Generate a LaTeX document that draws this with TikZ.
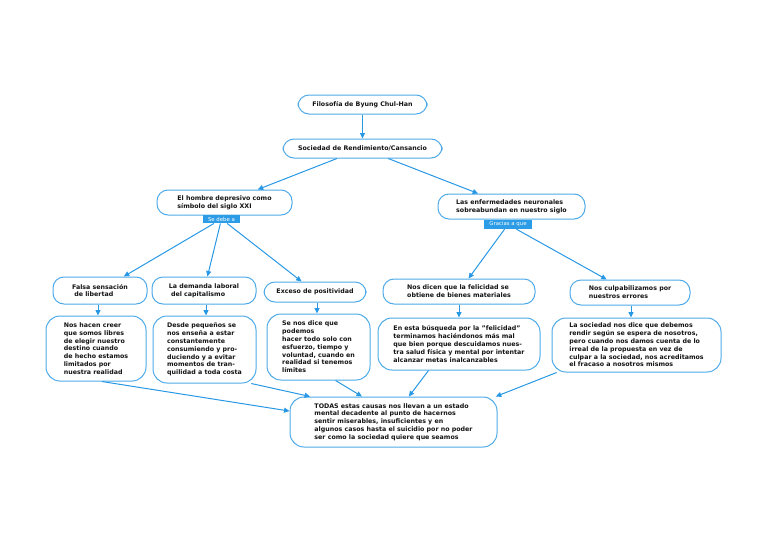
\documentclass[tikz,border=0pt]{standalone}
\usepackage{fontspec}
\setmainfont{DejaVu Sans}
\usetikzlibrary{arrows.meta}
\definecolor{boxblue}{RGB}{78,170,232}
\definecolor{arrblue}{RGB}{40,152,228}
\definecolor{tabblue}{RGB}{45,156,230}
\definecolor{txt}{RGB}{20,20,20}
\tikzset{
  box/.style={draw=boxblue, line width=1pt, fill=white, rounded corners=11pt,
    align=left, inner sep=0pt, text=txt,
    font=\bfseries\fontsize{6.3}{7.8}\selectfont},
  bigbox/.style={box, rounded corners=14pt},
  tab/.style={fill=tabblue, text=white, inner sep=0pt,
    font=\fontsize{5.4}{6}\selectfont},
  conn/.style={draw=arrblue, line width=1pt, -{Triangle[length=5.5pt,width=5pt]}}
}
\begin{document}
\begin{tikzpicture}[x=1pt,y=-1pt]
\useasboundingbox (0,0) rectangle (768,541);
\node[box, minimum width=129pt, minimum height=19pt] (fil) at (362.5,104.5) {Filosofía de Byung Chul-Han};
\node[box, minimum width=159pt, minimum height=19pt] (soc) at (362.5,148.5) {Sociedad de Rendimiento/Cansancio};
\node[box, minimum width=135pt, minimum height=25pt] (hom) at (224.5,202.5) {El hombre depresivo como\\símbolo del siglo XXI};
\node[box, minimum width=147pt, minimum height=25pt] (enf) at (511.5,206.5) {Las enfermedades neuronales\\sobreabundan en nuestro siglo};
\node[tab, minimum width=37pt, minimum height=8.5pt] (tab1) at (221.5,219) {Se debe a};
\node[tab, minimum width=48pt, minimum height=9pt] (tab2) at (508,224.5) {Gracias a que};
\node[box, minimum width=94pt, minimum height=27pt] (fal) at (100,290.5) {Falsa sensación\\\ de libertad};
\node[box, minimum width=104pt, minimum height=27pt] (dem) at (204,290.5) {La demanda laboral\\\ del capitalismo};
\node[box, minimum width=102pt, minimum height=20pt] (exc) at (315,292) {Exceso de positividad};
\node[box, minimum width=152pt, minimum height=25pt] (dic) at (459,291.5) {Nos dicen que la felicidad se\\obtiene de bienes materiales};
\node[box, minimum width=120pt, minimum height=25pt] (cul) at (630,292.5) {Nos culpabilizamos por\\nuestros errores};
\node[bigbox, minimum width=100pt, minimum height=65pt] (hac) at (96,348.5) {Nos hacen creer\\que somos libres\\de elegir nuestro\\destino cuando\\de hecho estamos\\limitados por\\nuestra realidad};
\node[bigbox, minimum width=103pt, minimum height=67pt] (des) at (204.5,349.5) {Desde pequeños se\\nos enseña a estar\\constantemente\\consumiendo y pro-\\duciendo y a evitar\\momentos de tran-\\quilidad a toda costa};
\node[bigbox, minimum width=103pt, minimum height=66pt] (sen) at (318.5,347) {Se nos dice que\\podemos\\hacer todo solo con\\esfuerzo, tiempo y\\voluntad, cuando en\\realidad si tenemos\\límites};
\node[bigbox, minimum width=162pt, minimum height=52pt] (bus) at (459,344) {En esta búsqueda por la \symbol{34}felicidad\symbol{34}\\terminamos haciéndonos más mal\\que bien porque descuidamos nues-\\tra salud física y mental por intentar\\alcanzar metas inalcanzables};
\node[bigbox, minimum width=169pt, minimum height=54pt] (lso) at (636.5,345) {La sociedad nos dice que debemos\\rendir según se espera de nosotros,\\pero cuando nos damos cuenta de lo\\irreal de la propuesta en vez de\\culpar a la sociedad, nos acreditamos\\el fracaso a nosotros mismos};
\node[bigbox, minimum width=207pt, minimum height=50pt] (tod) at (393.5,422) {TODAS estas causas nos llevan a un estado\\mental decadente al punto de hacernos\\sentir miserables, insuficientes y en\\algunos casos hasta el suicidio por no poder\\ser como la sociedad quiere que seamos};

\draw[conn] (fil) -- (soc);
\draw[conn] (soc) -- (hom);
\draw[conn] (soc) -- (enf);
\draw[conn] (tab1) -- (fal);
\draw[conn] (tab1) -- (dem);
\draw[conn] (tab1) -- (exc);
\draw[conn] (tab2) -- (dic);
\draw[conn] (tab2) -- (cul);
\draw[conn] (fal.south) ++(-2,0) coordinate (fs) -- (fs |- hac.north);
\draw[conn] (dem.south) ++(2,0) coordinate (ds) -- (ds |- des.north);
\draw[conn] (exc.south) ++(2,0) coordinate (es) -- (es |- sen.north);
\draw[conn] (dic.south) -- (dic.south |- bus.north);
\draw[conn] (cul.south) ++(1,0) coordinate (cs) -- (cs |- lso.north);
\draw[conn] (hac.-80) -- (tod.174);
\draw[conn] (des.-36) -- (tod.163);
\draw[conn] (sen.-63) -- (tod.141);
\draw[conn] (bus.-139) -- (tod.59);
\draw[conn] (lso.-161) -- (tod.14);
\end{tikzpicture}
\end{document}
